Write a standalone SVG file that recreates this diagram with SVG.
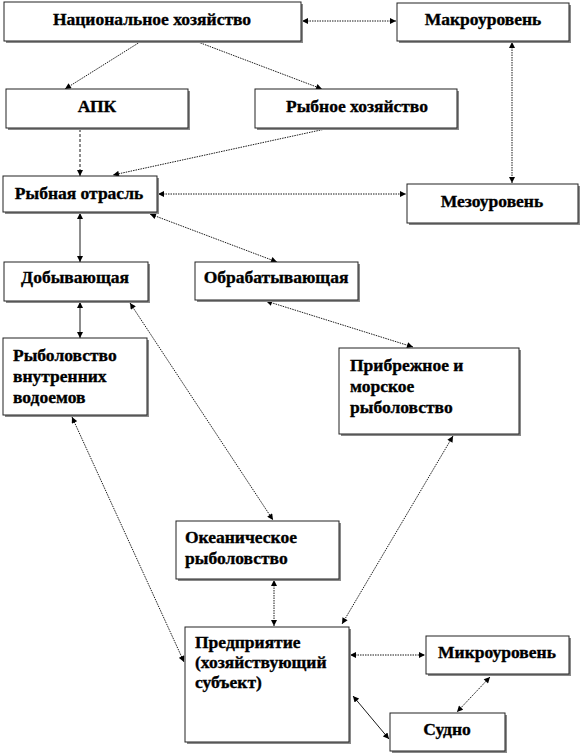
<svg xmlns="http://www.w3.org/2000/svg" width="582" height="754" viewBox="0 0 582 754">
<defs>
<marker id="ah" viewBox="0 0 10 10" refX="10" refY="5" markerWidth="7" markerHeight="6" markerUnits="userSpaceOnUse" orient="auto-start-reverse">
<path d="M0,0 L10,5 L0,10 z" fill="#000"/>
</marker>
</defs>
<style>
.sh{fill:#8a8a8a;}
.bx{fill:#fff;stroke:#222;stroke-width:1;}
.t{font-family:"Liberation Serif","Times New Roman",serif;font-weight:bold;font-size:17.5px;fill:#000;stroke:#000;stroke-width:0.35;}
.c{stroke:#000;stroke-width:0.9;fill:none;}
.dt{stroke-dasharray:1.5 1;}
.ds{stroke-dasharray:3 2;}
.one{marker-end:url(#ah);}
.two{marker-start:url(#ah);marker-end:url(#ah);}
</style>
<rect width="582" height="754" fill="#fff"/>

<g id="connectors">
<line class="c dt two" x1="302" y1="21" x2="396" y2="21"/>
<line class="c dt one" x1="140" y1="42" x2="65" y2="89"/>
<line class="c dt one" x1="198" y1="42" x2="322" y2="89"/>
<line class="c dt two" x1="512" y1="42" x2="512" y2="183"/>
<line class="c ds one" x1="80" y1="129" x2="80" y2="176"/>
<line class="c dt one" x1="330" y1="128" x2="113" y2="175"/>
<line class="c dt two" x1="158" y1="194" x2="406" y2="194"/>
<line class="c two" x1="80" y1="213" x2="80" y2="262"/>
<line class="c dt two" x1="150" y1="214" x2="277" y2="262"/>
<line class="c two" x1="80" y1="302" x2="80" y2="338"/>
<line class="c dt two" x1="130" y1="303" x2="273" y2="520"/>
<line class="c dt two" x1="266" y1="301" x2="413" y2="347"/>
<line class="c dt two" x1="72" y1="417" x2="184" y2="662"/>
<line class="c dt two" x1="453" y1="436" x2="342" y2="624"/>
<line class="c dt two" x1="274" y1="580" x2="274" y2="626"/>
<line class="c dt two" x1="350" y1="655" x2="425" y2="655"/>
<line class="c dt two" x1="490" y1="677" x2="457" y2="712"/>
<line class="c two" x1="353" y1="696" x2="389" y2="739"/>
</g>

<g id="n-nat">
<rect class="sh" x="6" y="4" width="297" height="39"/>
<rect class="bx" x="4" y="2" width="297" height="39"/>
<text class="t" x="152" y="25" text-anchor="middle">Национальное хозяйство</text>
</g>
<g id="n-macro">
<rect class="sh" x="399" y="5" width="172" height="38"/>
<rect class="bx" x="397" y="3" width="172" height="38"/>
<text class="t" x="483" y="25" text-anchor="middle">Макроуровень</text>
</g>
<g id="n-apk">
<rect class="sh" x="8" y="91" width="182" height="39"/>
<rect class="bx" x="6" y="89" width="182" height="39"/>
<text class="t" x="97" y="112" text-anchor="middle">АПК</text>
</g>
<g id="n-rh">
<rect class="sh" x="257" y="91" width="202" height="39"/>
<rect class="bx" x="255" y="89" width="202" height="39"/>
<text class="t" x="357" y="112" text-anchor="middle">Рыбное хозяйство</text>
</g>
<g id="n-ro">
<rect class="sh" x="5" y="178" width="154" height="36"/>
<rect class="bx" x="3" y="176" width="154" height="36"/>
<text class="t" x="79" y="199" text-anchor="middle">Рыбная отрасль</text>
</g>
<g id="n-meso">
<rect class="sh" x="409" y="186" width="171" height="39"/>
<rect class="bx" x="407" y="184" width="171" height="39"/>
<text class="t" x="492" y="207" text-anchor="middle">Мезоуровень</text>
</g>
<g id="n-dob">
<rect class="sh" x="6" y="264" width="144" height="39"/>
<rect class="bx" x="4" y="262" width="144" height="39"/>
<text class="t" x="75" y="283" text-anchor="middle">Добывающая</text>
</g>
<g id="n-obr">
<rect class="sh" x="197" y="264" width="163" height="38"/>
<rect class="bx" x="195" y="262" width="163" height="38"/>
<text class="t" x="276" y="283" text-anchor="middle">Обрабатывающая</text>
</g>
<g id="n-vnutr">
<rect class="sh" x="5" y="340" width="144" height="77"/>
<rect class="bx" x="3" y="338" width="144" height="77"/>
<text class="t" x="13" y="361">Рыболовство</text>
<text class="t" x="13" y="382">внутренних</text>
<text class="t" x="13" y="403">водоемов</text>
</g>
<g id="n-pribr">
<rect class="sh" x="341" y="350" width="180" height="86"/>
<rect class="bx" x="339" y="348" width="180" height="86"/>
<text class="t" x="350" y="371">Прибрежное и</text>
<text class="t" x="350" y="392">морское</text>
<text class="t" x="350" y="413">рыболовство</text>
</g>
<g id="n-okean">
<rect class="sh" x="178" y="523" width="163" height="58"/>
<rect class="bx" x="176" y="521" width="163" height="58"/>
<text class="t" x="185" y="543">Океаническое</text>
<text class="t" x="185" y="564">рыболовство</text>
</g>
<g id="n-pred">
<rect class="sh" x="187" y="629" width="164" height="115"/>
<rect class="bx" x="185" y="627" width="164" height="115"/>
<text class="t" x="195" y="648">Предприятие</text>
<text class="t" x="195" y="668">(хозяйствующий</text>
<text class="t" x="195" y="688">субъект)</text>
</g>
<g id="n-micro">
<rect class="sh" x="428" y="638" width="143" height="38"/>
<rect class="bx" x="426" y="636" width="143" height="38"/>
<text class="t" x="497" y="658" text-anchor="middle">Микроуровень</text>
</g>
<g id="n-sudno">
<rect class="sh" x="392" y="715" width="115" height="38"/>
<rect class="bx" x="390" y="713" width="115" height="38"/>
<text class="t" x="447" y="735" text-anchor="middle">Судно</text>
</g>
</svg>
